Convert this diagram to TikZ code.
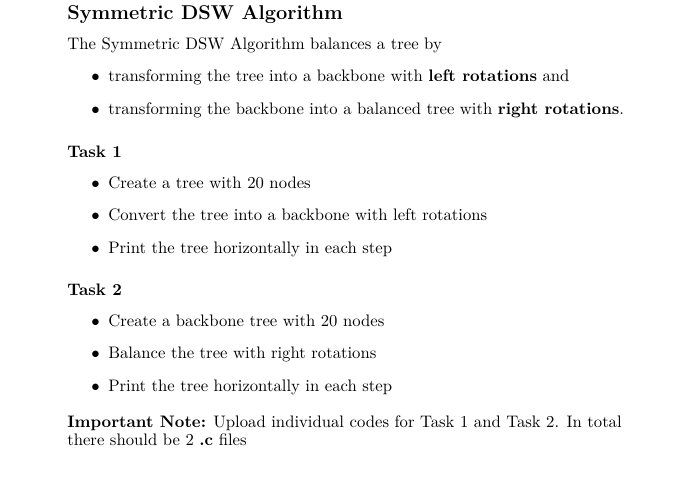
\documentclass[tikz,border=0pt]{standalone}
\begin{document}
\begin{tikzpicture}[x=0.6pt,y=-0.6pt,
  txt/.style={anchor=base west,inner sep=0pt},
  bul/.style={anchor=base west,inner sep=0pt}]
\useasboundingbox (0,0) rectangle (700,477);
\node[txt,font=\large\bfseries] (title) at (67,20) {Symmetric DSW Algorithm};
\node[txt] (intro) at (67,50) {The Symmetric DSW Algorithm balances a tree by};
\node[bul] (b1) at (91,82) {$\bullet$};
\node[txt] (t1) at (108,82) {transforming the tree into a backbone with \textbf{left rotations} and};
\node[bul] (b2) at (91,115) {$\bullet$};
\node[txt] (t2) at (108,115) {transforming the backbone into a balanced tree with \textbf{right rotations}.};
\node[txt,font=\bfseries] (task1) at (67,158) {Task 1};
\node[bul] (b3) at (91,189) {$\bullet$};
\node[txt] (t3) at (108,189) {Create a tree with 20 nodes};
\node[bul] (b4) at (91,221) {$\bullet$};
\node[txt] (t4) at (108,221) {Convert the tree into a backbone with left rotations};
\node[bul] (b5) at (91,254) {$\bullet$};
\node[txt] (t5) at (108,254) {Print the tree horizontally in each step};
\node[txt,font=\bfseries] (task2) at (67,296) {Task 2};
\node[bul] (b6) at (91,327) {$\bullet$};
\node[txt] (t6) at (108,327) {Create a backbone tree with 20 nodes};
\node[bul] (b7) at (91,359) {$\bullet$};
\node[txt] (t7) at (108,359) {Balance the tree with right rotations};
\node[bul] (b8) at (91,392) {$\bullet$};
\node[txt] (t8) at (108,392) {Print the tree horizontally in each step};
\node[txt] (n1) at (67,428) {\textbf{Important Note:} Upload individual codes for Task 1 and Task 2. In total};
\node[txt] (n2) at (67,446) {there should be 2 \textbf{.c} files};
\end{tikzpicture}
\end{document}
